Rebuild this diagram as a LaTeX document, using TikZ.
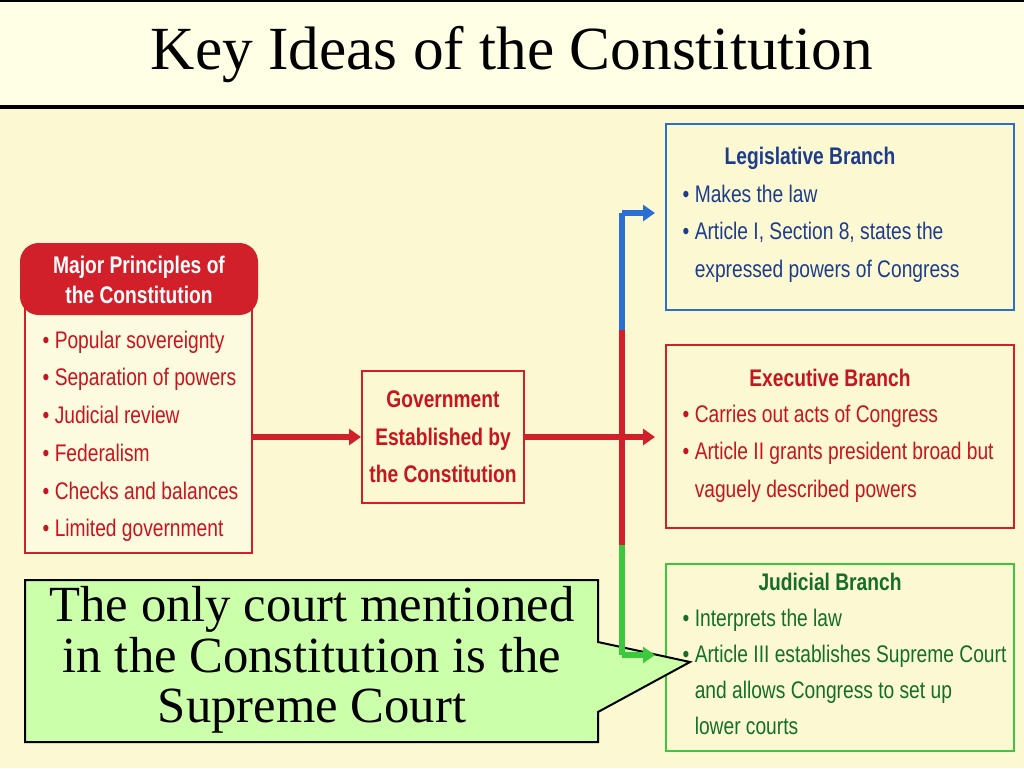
\documentclass[tikz,border=0pt]{standalone}
\usepackage[rgb]{xcolor}
\usepackage{fontspec}
\setmainfont{Liberation Serif}
\newfontfamily\narrow[FakeStretch=0.8]{Liberation Sans}
\usetikzlibrary{positioning,arrows.meta}
\definecolor{paper}{HTML}{FBF8D2}
\definecolor{titlebg}{HTML}{FFFFE6}
\definecolor{redline}{HTML}{D2202A}
\definecolor{darkred}{HTML}{C8141E}
\definecolor{blueline}{HTML}{2A6FD6}
\definecolor{darkblue}{HTML}{1E3C8C}
\definecolor{greenline}{HTML}{3CC83C}
\definecolor{darkgreen}{HTML}{146E28}
\definecolor{calloutbg}{HTML}{CCFFAA}
\tikzset{
  branchbox/.style={draw=#1, line width=1.5pt, minimum width=348*0.75pt, align=left, anchor=north west, inner sep=0pt},
  listtext/.style={font=\narrow\fontsize{18}{28.3}\selectfont, align=left, anchor=north west},
  headtext/.style={font=\narrow\bfseries\fontsize{18}{22}\selectfont},
  flow/.style={line width=4pt, -{Triangle[length=9pt,width=12pt]}},
}
\begin{document}
\begin{tikzpicture}[x=0.75pt, y=-0.75pt]
\useasboundingbox (0,0) rectangle (1024,768);
\fill[paper] (0,0) rectangle (1024,768);

% title
\fill[titlebg] (0,0) rectangle (1024,105);
\draw[line width=2pt] (0,1) -- (1024,1);
\draw[line width=3pt] (0,107) -- (1024,107);
\node (title) at (512,55) {\fontsize{46}{48}\selectfont Key Ideas of the Constitution};

% major principles
\draw[redline, line width=1.5pt, fill=white!30!paper] (25,300) rectangle (252,553);
\fill[redline, rounded corners=14pt] (20,243) rectangle (258,315);
\node[headtext, text=white, align=center] (major) at (139,280) {Major Principles of\\the Constitution};
\node[listtext, text=darkred] (plist) at (38,326) {%
\textbullet\ Popular sovereignty\\\textbullet\ Separation of powers\\\textbullet\ Judicial review\\%
\textbullet\ Federalism\\\textbullet\ Checks and balances\\\textbullet\ Limited government};
\coordinate (pright) at (252,437);

% government
\node[draw=redline, line width=1.5pt, minimum width=162*0.75pt, minimum height=132*0.75pt, align=center,
  headtext, font=\narrow\bfseries\fontsize{18}{28}\selectfont, text=darkred] (gov) at (443,437)
  {Government\\Established by\\the Constitution};
\draw[flow, redline] (pright) -- (gov.west);

% branches
\node[branchbox=blueline, minimum height=186*0.75pt] (leg) at (665,123) {};
\node[headtext, text=darkblue] (legt) at (810,158) {Legislative Branch};
\node[listtext, text=darkblue] (legl) at (678,180) {\textbullet\ Makes the law\\\textbullet\ Article I, Section 8, states the\\\phantom{\textbullet}\ expressed powers of Congress};

\node[branchbox=redline, minimum height=183*0.75pt] (exe) at (665,344) {};
\node[headtext, text=darkred] (exet) at (830,378) {Executive Branch};
\node[listtext, text=darkred] (exel) at (678,400) {\textbullet\ Carries out acts of Congress\\\textbullet\ Article II grants president broad but\\\phantom{\textbullet}\ vaguely described powers};

\node[branchbox=greenline, minimum height=187*0.75pt] (jud) at (665,563) {};
\node[headtext, text=darkgreen] (judt) at (830,582) {Judicial Branch};
\node[listtext, text=darkgreen, font=\narrow\fontsize{18}{27}\selectfont] (judl) at (678,604) {\textbullet\ Interprets the law\\\textbullet\ Article III establishes Supreme Court\\\phantom{\textbullet}\ and allows Congress to set up\\\phantom{\textbullet}\ lower courts};

% callout
\coordinate (tip) at (690,662);
\draw[line width=1.5pt, fill=calloutbg] (25,580) -- (598,580) -- (598,642) -- (tip) -- (598,712)
  -- (598,742) -- (25,742) -- cycle;
\node[align=center, font=\fontsize{38}{38}\selectfont] (note) at (312,660)
  {The only court mentioned\\in the Constitution is the\\Supreme Court};

% connectors
\coordinate (split) at (622,437);
\coordinate (top) at (622,213);
\coordinate (bot) at (622,655);
\draw[line width=4pt, blueline] (622,330) -- (top);
\draw[line width=4pt, greenline] (622,545) -- (bot);
\draw[line width=4pt, redline] (622,330) -- (622,545);
\draw[flow, blueline] (top) -- (655,213);
\draw[flow, greenline] (bot) -- (655,655);
\draw[flow, redline] (gov.east) -- (655,437);
\end{tikzpicture}
\end{document}
